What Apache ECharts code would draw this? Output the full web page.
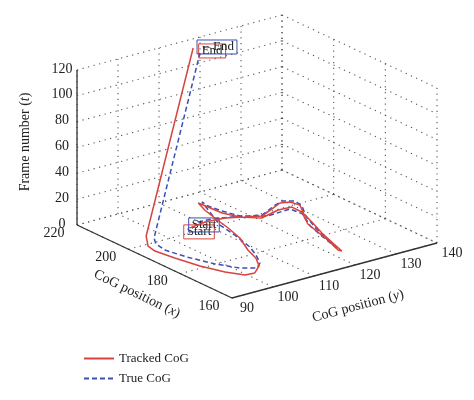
<!DOCTYPE html>
<html>
<head>
<meta charset="utf-8">
<script src="https://cdn.jsdelivr.net/npm/echarts@6/dist/echarts.min.js"></script>
<style>html,body{margin:0;padding:0;background:#fff}#chart{width:474px;height:400px}</style>
</head>
<body>
<div id="chart"></div>
<script>
// CoG tracks: x, y position and frame number t
var trackedX = [202.6,203.6,202.9,200.6,198.7,201.0,203.0,202.1,199.1,193.9,188.6,181.4,174.6,169.2,170.2,176.9,182.5,188.1,195.2,199.2,199.6,197.7,201.3,205.9,211.0,214.5,209.9,204.3,197.2,190.3,182.9,177.6,173.0,169.9,170.2,174.6,181.3,189.0,195.4,199.0,204.5,215.2];
var trackedY = [106.6,110.9,115.3,118.7,121.7,125.6,128.8,130.7,131.2,128.9,127.5,125.4,123.8,122.6,122.3,124.0,125.1,126.2,129.2,129.3,126.2,121.0,118.0,116.5,116.3,116.1,114.8,113.7,112.5,111.0,108.3,106.9,104.8,101.8,99.6,97.5,95.6,94.3,93.5,94.1,97.1,115.3];
var trackedT = [0,0,0,0,0,0,0,0,0,0,0,0,0,0,0,0,0,0,0,0,0,0,0,0,0,0,0,0,0,0,0,0,0,0,0,0,0,0,0,0,0,120];
var trueX = [204.6,204.2,202.4,199.2,202.3,203.8,201.9,198.3,192.5,184.9,176.9,170.8,172.9,179.8,186.7,194.0,198.5,197.9,201.8,207.0,211.5,214.5,208.1,199.9,192.6,184.2,179.1,174.4,172.2,174.6,180.2,187.8,194.5,199.0,202.4,211.6];
var trueY = [109.8,112.9,116.7,122.0,126.9,129.8,131.8,131.2,128.5,126.1,124.0,122.6,123.0,124.4,125.9,128.7,128.4,122.6,118.3,117.1,116.6,117.0,114.9,112.2,111.2,109.6,107.9,105.9,103.8,101.1,98.6,96.5,95.4,96.0,97.7,114.7];
var trueT = [0,0,0,0,0,0,0,0,0,0,0,0,0,0,0,0,0,0,0,0,0,0,0,0,0,0,0,0,0,0,0,0,0,0,0,120];

var xTicks = [160,180,200,220];
var yTicks = [90,100,110,120,130,140];
var tTicks = [0,20,40,60,80,100,120];

// simple fixed-view projection of the 3D box onto the page
var O = [232, 298], ex = [-2.583, -1.217], ey = [4.1, -1.1], et = [0, -1.292];
function proj(x, y, t) {
  var a = x - 160, b = y - 90;
  return [O[0] + a * ex[0] + b * ey[0] + t * et[0], O[1] + a * ex[1] + b * ey[1] + t * et[1]];
}
function track(xs, ys, ts) {
  return xs.map(function (v, i) { return proj(v, ys[i], ts[i]); });
}

var segs = []; // [p1, p2, dotted?]
xTicks.forEach(function (x) {
  segs.push([proj(x, 90, 0), proj(x, 140, 0), true]);
  segs.push([proj(x, 140, 0), proj(x, 140, 120), true]);
});
yTicks.forEach(function (y) {
  segs.push([proj(160, y, 0), proj(220, y, 0), true]);
  segs.push([proj(220, y, 0), proj(220, y, 120), true]);
});
tTicks.forEach(function (t) {
  segs.push([proj(220, 90, t), proj(220, 140, t), true]);
  segs.push([proj(220, 140, t), proj(160, 140, t), true]);
});
segs.push([proj(160, 90, 0), proj(220, 90, 0), false]);
segs.push([proj(160, 90, 0), proj(160, 140, 0), false]);
segs.push([proj(220, 90, 0), proj(220, 90, 120), false]);

var texts = [];
xTicks.forEach(function (x) { var p = proj(x, 90, 0); texts.push([p[0] - 23, p[1] + 8, String(x)]); });
yTicks.forEach(function (y) { var p = proj(160, y, 0); texts.push([p[0] + 15, p[1] + 10, String(y)]); });
tTicks.forEach(function (t) { var p = proj(220, 90, t); texts.push([p[0] - 15, p[1] - 1, String(t)]); });

var serif = 'Liberation Serif';
var chart = echarts.init(document.getElementById('chart'));
var tr = track(trackedX, trackedY, trackedT), tu = track(trueX, trueY, trueT);

chart.setOption({
  animation: false,
  grid: { left: 0, right: 0, top: 0, bottom: 0 },
  xAxis: { type: 'value', min: 0, max: 474, show: false },
  yAxis: { type: 'value', min: 0, max: 400, inverse: true, show: false },
  legend: {
    orient: 'vertical', left: 78, top: 347, itemWidth: 30, itemHeight: 10, itemGap: 7,
    itemStyle: { opacity: 0 },
    textStyle: { fontFamily: serif, fontSize: 13, color: '#222' },
    data: ['Tracked CoG', 'True CoG']
  },
  series: [
    {
      type: 'custom', silent: true, data: segs.map(function (s, i) { return i; }),
      renderItem: function (params, api) {
        var s = segs[api.value(0)];
        var a = api.coord(s[0]), b = api.coord(s[1]);
        return {
          type: 'line', shape: { x1: a[0], y1: a[1], x2: b[0], y2: b[1] },
          style: s[2] ? { stroke: '#555', lineWidth: 1.1, lineDash: [1.2, 4.5] } : { stroke: '#333', lineWidth: 1.3 }
        };
      }
    },
    {
      type: 'custom', silent: true, data: texts.map(function (s, i) { return i; }),
      renderItem: function (params, api) {
        var s = texts[api.value(0)];
        var a = api.coord([s[0], s[1]]);
        return { type: 'text', x: a[0], y: a[1],
          style: { text: s[2], fill: '#222', font: '14px ' + serif, align: 'center', verticalAlign: 'middle' } };
      }
    },
    {
      name: 'Tracked CoG', type: 'line', data: tr, showSymbol: false, symbol: 'none',
      lineStyle: { color: '#d9433f', width: 1.5 }, itemStyle: { color: '#d9433f' }, z: 5,
      markPoint: {
        symbol: 'rect', symbolSize: 1, itemStyle: { color: 'transparent' },
        label: { show: true, formatter: '{b}', fontFamily: serif, fontSize: 13, color: '#222',
          borderColor: '#d9433f', borderWidth: 1, padding: [1, 3, 0, 3] },
        data: [
          { name: 'Start', coord: tr[0], label: { offset: [9, 4] } },
          { name: 'End', coord: tr[tr.length - 1], label: { offset: [19, 3] } }
        ]
      }
    },
    {
      name: 'True CoG', type: 'line', data: tu, showSymbol: false, symbol: 'none',
      lineStyle: { color: '#3a4fb8', width: 1.5, type: [5, 3] }, itemStyle: { color: '#3a4fb8' }, z: 4,
      markPoint: {
        symbol: 'rect', symbolSize: 1, itemStyle: { color: 'transparent' },
        label: { show: true, formatter: '{b}', fontFamily: serif, fontSize: 13, color: '#222',
          borderColor: '#3a4fb8', borderWidth: 1, padding: [1, 3, 0, 3] },
        data: [
          { name: 'Start', coord: tu[0], label: { offset: [6, 3] } },
          { name: '\u2190End', coord: tu[tu.length - 1], label: { offset: [17, -6] } }
        ]
      }
    }
  ],
  graphic: [
    { type: 'text', x: 25, y: 142, rotation: Math.PI / 2,
      style: { rich: { i: { fontStyle: 'italic', fontFamily: serif, fontSize: 14 } },
        text: 'Frame number ({i|t})', font: '14px ' + serif, fill: '#222', align: 'center', verticalAlign: 'middle' } },
    { type: 'text', x: 137, y: 294, rotation: -0.45,
      style: { rich: { i: { fontStyle: 'italic', fontFamily: serif, fontSize: 14 } },
        text: 'CoG position ({i|x})', font: '14px ' + serif, fill: '#222', align: 'center', verticalAlign: 'middle' } },
    { type: 'text', x: 358, y: 306, rotation: 0.26,
      style: { rich: { i: { fontStyle: 'italic', fontFamily: serif, fontSize: 14 } },
        text: 'CoG position ({i|y})', font: '14px ' + serif, fill: '#222', align: 'center', verticalAlign: 'middle' } }
  ]
});
</script>
</body>
</html>
